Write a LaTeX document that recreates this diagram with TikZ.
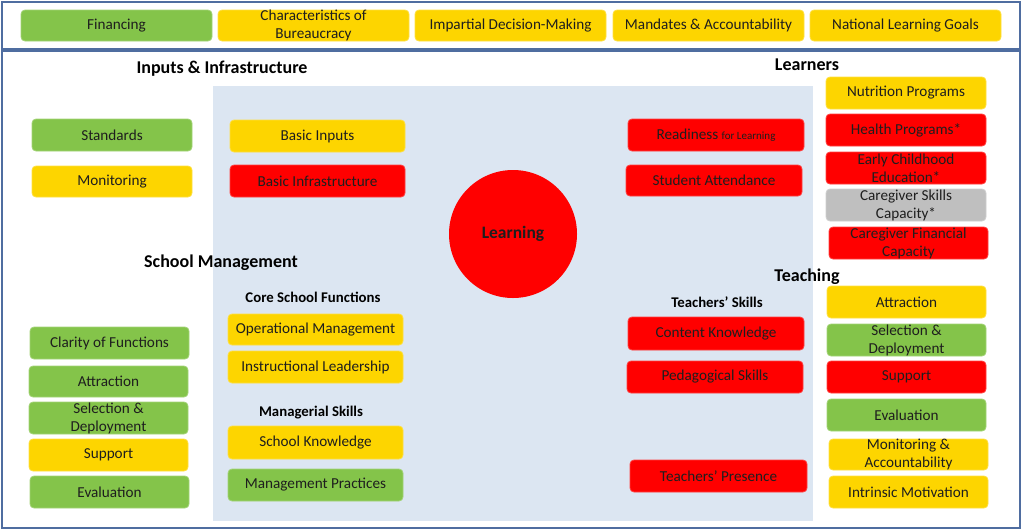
\documentclass[tikz,border=0pt]{standalone}
\usepackage{fontspec}
\setmainfont{Carlito}
\definecolor{grn}{RGB}{132,196,74}
\definecolor{ylw}{RGB}{253,213,0}
\definecolor{rd}{RGB}{255,0,0}
\definecolor{gry}{RGB}{191,191,191}
\definecolor{lblue}{RGB}{220,230,242}
\definecolor{frm}{RGB}{79,109,160}
\definecolor{txt}{RGB}{30,30,30}
\tikzset{
  bx/.style={rounded corners=4pt, inner sep=0pt, align=center, text=txt,
    font=\fontsize{15.2}{18}\selectfont, line width=0.8pt},
  gbox/.style={bx, fill=grn, draw=grn!75!white},
  ybox/.style={bx, fill=ylw, draw=ylw!75!white},
  rbox/.style={bx, fill=rd, draw=rd!75!white},
  grbox/.style={bx, fill=gry, draw=gry!75!white},
  head/.style={font=\bfseries\fontsize{18}{21}\selectfont, inner sep=0pt, yshift=-1.5pt},
  subhead/.style={font=\bfseries\fontsize{14.8}{17}\selectfont, inner sep=0pt, yshift=-1pt},
}
\newcommand\cbox[7]{\node[#1, minimum width={#5-#3}, minimum height={#6-#4}] (#2) at ({(#3+#5)/2},{(#4+#6)/2}) {#7};}
\begin{document}
\begin{tikzpicture}[x=1pt,y=-1pt]
\useasboundingbox (0,0) rectangle (1024,531);
% frames
\draw[frm, line width=1.5pt] (2,2) rectangle (1020,49);
\draw[frm, line width=1.5pt] (2,51) rectangle (1020,528);
% light blue region
\fill[lblue] (213,86) rectangle (813,521);
% top row
\cbox{gbox}{fin}{21}{10}{212}{41}{Financing}
\cbox{ybox}{chb}{218}{10}{409}{41}{Characteristics of\\Bureaucracy}
\cbox{ybox}{imp}{415}{10}{606}{41}{Impartial Decision-Making}
\cbox{ybox}{man}{613}{10}{804}{41}{Mandates \& Accountability}
\cbox{ybox}{nlg}{810}{10}{1001}{41}{National Learning Goals}
% headings
\node[head] (hinp) at (222,67) {Inputs \& Infrastructure};
\node[head] (hlrn) at (807,63) {Learners};
\node[head] (hsm) at (221,261) {School Management};
\node[head] (htch) at (807,275) {Teaching};
\node[subhead] (hcsf) at (313,296) {Core School Functions};
\node[subhead] (hts) at (717,301) {Teachers’ Skills};
\node[subhead] (hms) at (311,412) {Managerial Skills};
% inputs
\cbox{gbox}{std}{32}{119}{192}{151}{Standards}
\cbox{ybox}{mon}{32}{166}{192}{197}{Monitoring}
\cbox{ybox}{bin}{230}{120}{405}{152}{Basic Inputs}
\cbox{rbox}{binf}{230}{165}{405}{197}{Basic Infrastructure}
% learning
\node[circle, fill=rd, minimum size=128pt, inner sep=0pt, font=\bfseries\fontsize{17.5}{20}\selectfont, text=txt] (lrn) at (513,234) {\raisebox{-1.5pt}{Learning}};
% learners
\cbox{rbox}{rdy}{628}{119}{804}{151}{Readiness {\fontsize{11}{13}\selectfont for Learning}}
\cbox{rbox}{satt}{626}{165}{802}{196}{Student Attendance}
\cbox{ybox}{nut}{826}{77}{986}{109}{Nutrition Programs}
\cbox{rbox}{hlth}{826}{114}{986}{146}{Health Programs*}
\cbox{rbox}{ece}{826}{152}{986}{184}{Early Childhood\\Education*}
\cbox{grbox}{csk}{826}{189}{986}{221}{Caregiver Skills\\Capacity*}
\cbox{rbox}{cfc}{829}{227}{988}{259}{Caregiver Financial\\Capacity}
% teachers
\cbox{rbox}{ck}{628}{317}{804}{350}{Content Knowledge}
\cbox{rbox}{ped}{627}{361}{803}{393}{Pedagogical Skills}
\cbox{rbox}{tpr}{630}{460}{807}{492}{Teachers’ Presence}
\cbox{ybox}{tatt}{827}{286}{986}{318}{Attraction}
\cbox{gbox}{tsel}{827}{324}{986}{356}{Selection \&\\Deployment}
\cbox{rbox}{tsup}{827}{361}{986}{393}{Support}
\cbox{gbox}{teva}{827}{399}{986}{431}{Evaluation}
\cbox{ybox}{tmon}{829}{439}{988}{470}{Monitoring \&\\Accountability}
\cbox{ybox}{tint}{829}{476}{988}{508}{Intrinsic Motivation}
% school management
\cbox{ybox}{opm}{228}{314}{403}{345}{Operational Management}
\cbox{ybox}{inl}{228}{351}{403}{383}{Instructional Leadership}
\cbox{ybox}{skn}{228}{426}{403}{459}{School Knowledge}
\cbox{gbox}{mpr}{228}{469}{403}{501}{Management Practices}
\cbox{gbox}{clf}{30}{327}{189}{359}{Clarity of Functions}
\cbox{gbox}{satt2}{29}{366}{188}{397}{Attraction}
\cbox{gbox}{ssel}{29}{402}{188}{434}{Selection \&\\Deployment}
\cbox{ybox}{ssup}{29}{439}{188}{471}{Support}
\cbox{gbox}{seva}{30}{476}{189}{508}{Evaluation}
\end{tikzpicture}
\end{document}
